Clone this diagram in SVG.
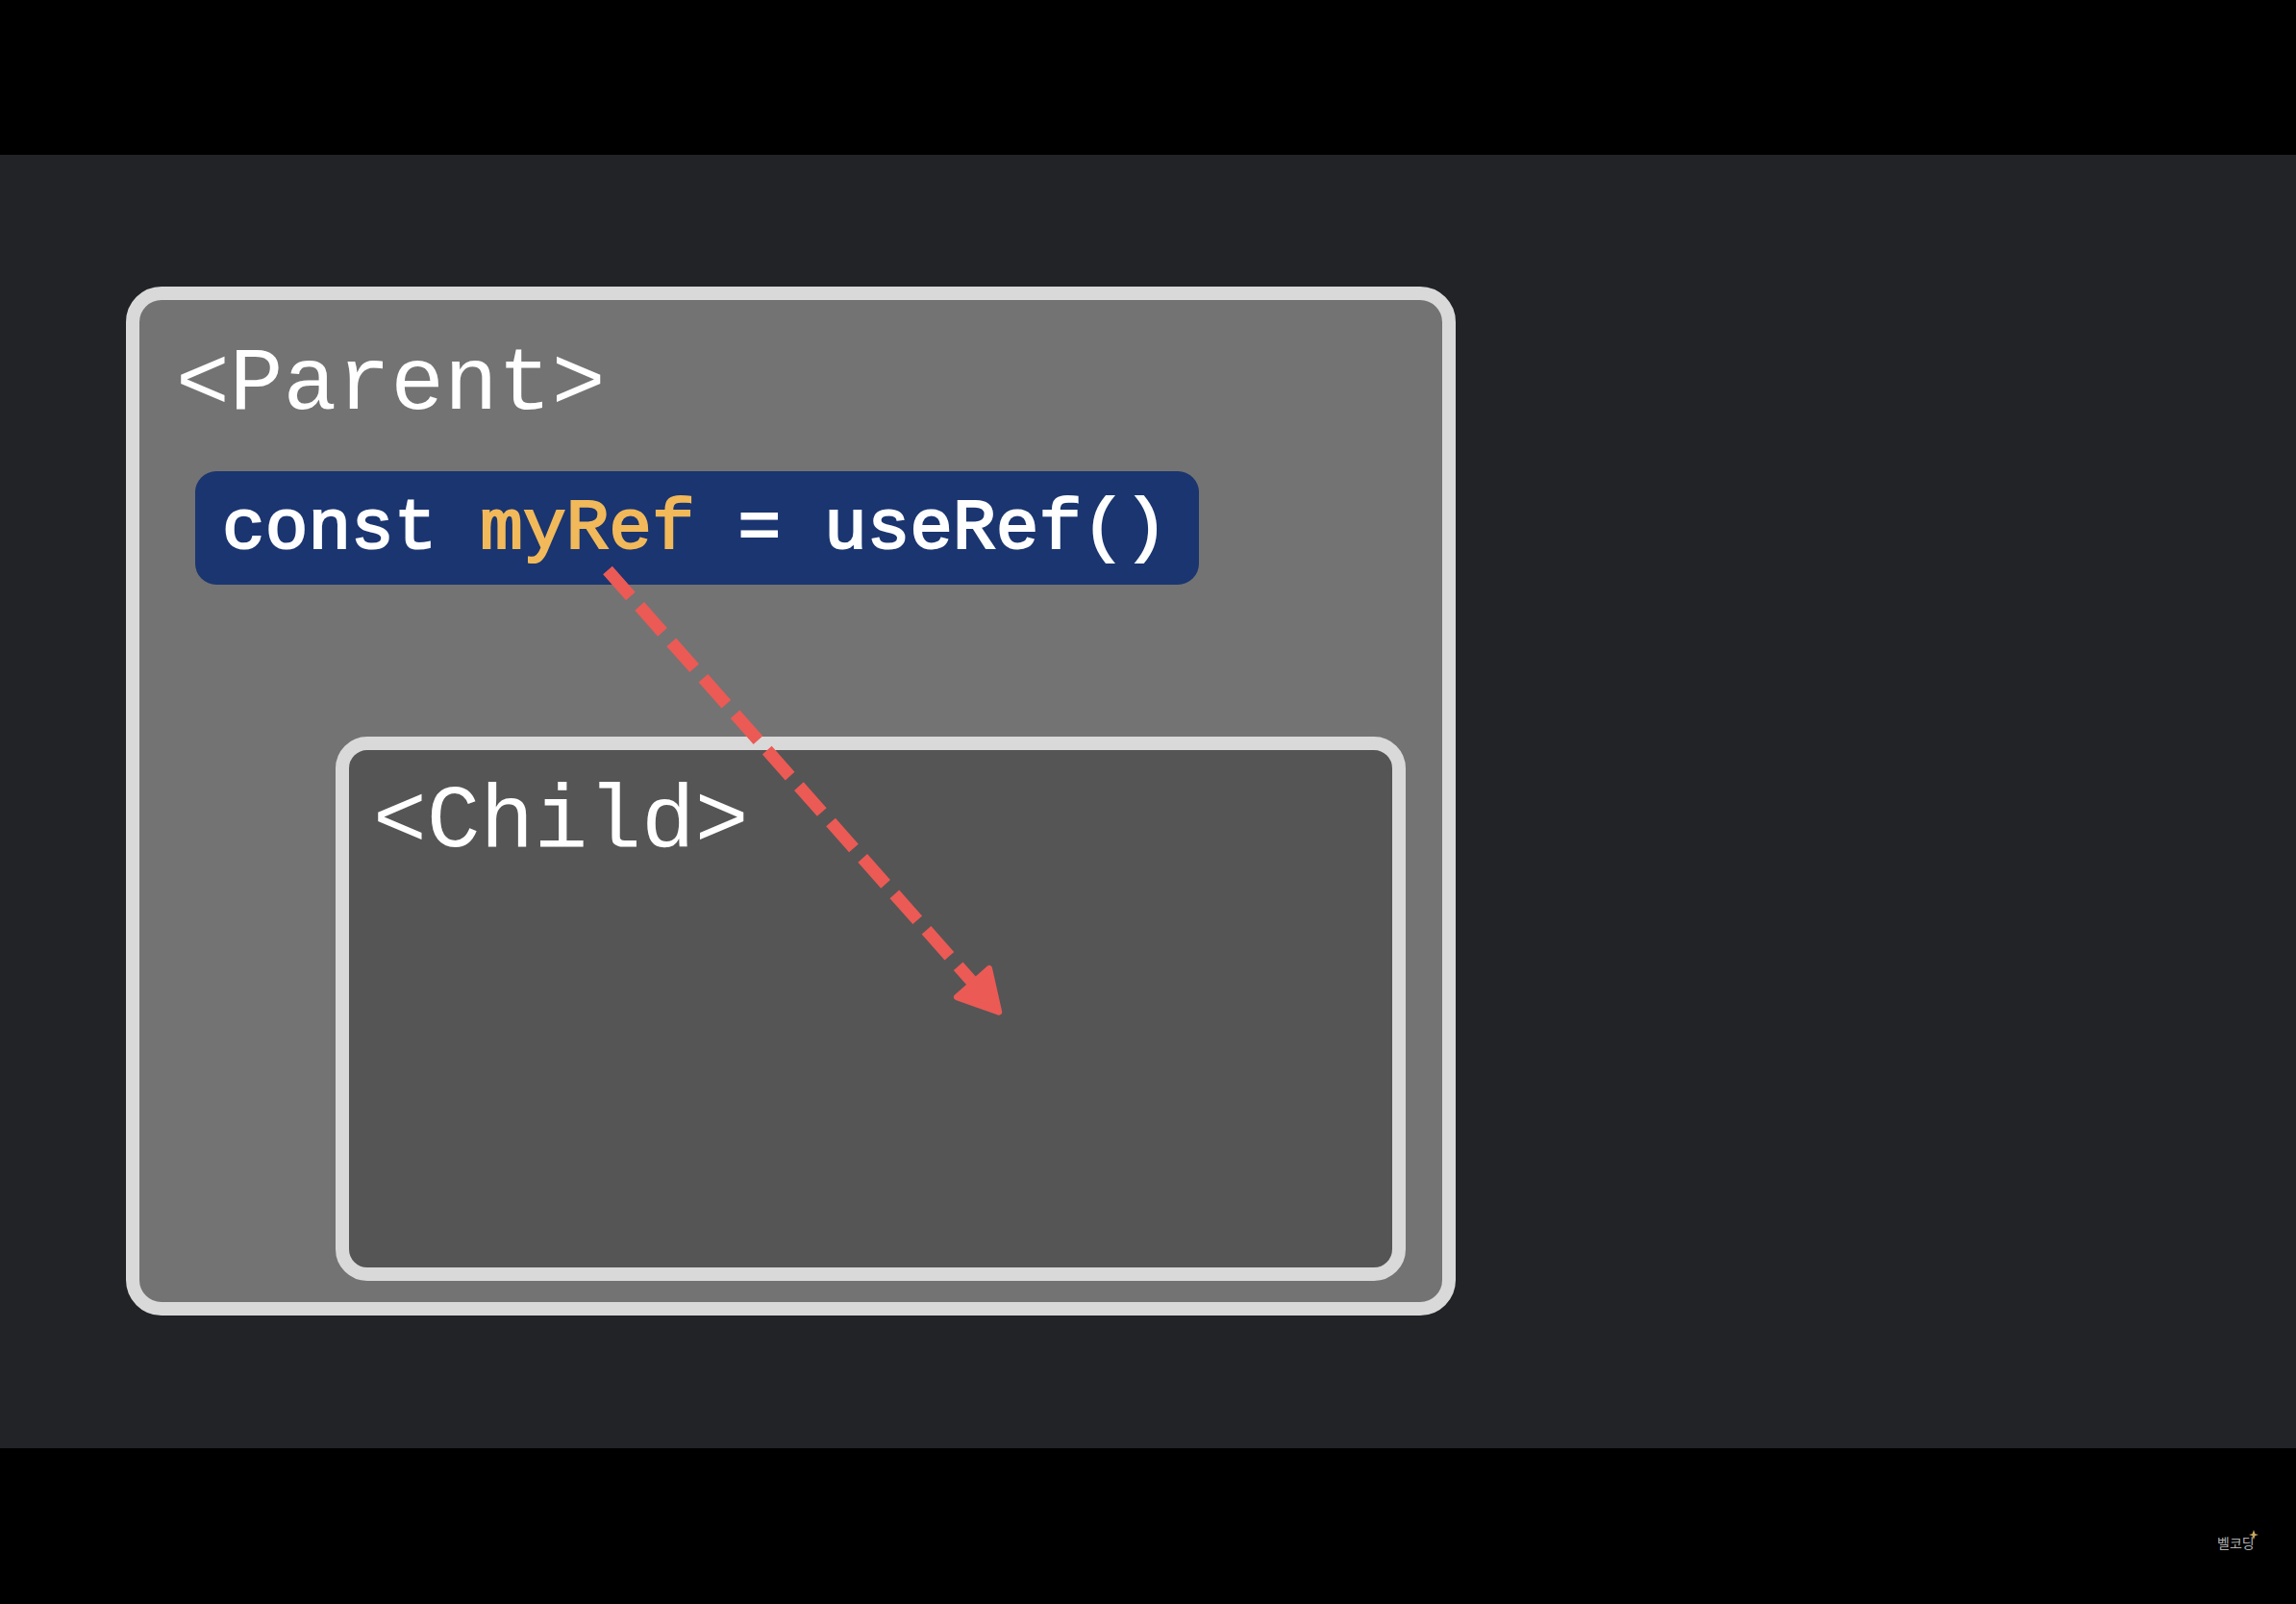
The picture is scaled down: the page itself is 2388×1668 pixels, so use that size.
<svg xmlns="http://www.w3.org/2000/svg" width="2388" height="1668" viewBox="0 0 2388 1668">
  <style>
    .box { stroke: #d9d9d9; stroke-width: 14; }
    .title { font-family: "Liberation Mono", "DejaVu Sans Mono", monospace; font-size: 93px; fill: #ffffff; }
    .code { font-family: "Liberation Mono", "DejaVu Sans Mono", monospace; font-size: 74.5px; fill: #ffffff; stroke: #ffffff; stroke-width: 2.2px; }
    .hl { fill: #f2b95a; stroke: #f2b95a; }
    .arrow { stroke: #eb5a55; stroke-width: 13; fill: none; stroke-dasharray: 36 14; }
  </style>
  <defs>
    <marker id="head" markerUnits="userSpaceOnUse" markerWidth="60" markerHeight="60" viewBox="-4 -28 52 56" refX="0" refY="0" orient="auto">
      <path d="M0,-21 L38,0 L0,21 Z" fill="#eb5a55" stroke="#eb5a55" stroke-width="6" stroke-linejoin="round"/>
    </marker>
  </defs>

  <rect x="0" y="0" width="2388" height="1668" fill="#000000"/>
  <rect x="0" y="161" width="2388" height="1345" fill="#212327"/>

  <g id="parent">
    <rect class="box" x="138" y="305" width="1369" height="1056" rx="30" fill="#737373"/>
    <text class="title" x="183" y="425">&lt;Parent&gt;</text>
  </g>

  <g id="child">
    <rect class="box" x="356" y="773" width="1099" height="552" rx="26" fill="#555555"/>
    <text class="title" x="388" y="880">&lt;Child&gt;</text>
  </g>

  <g id="code">
    <rect x="203" y="490" width="1044" height="118" rx="22" fill="#1a3570"/>
    <text class="code" x="231" y="570" xml:space="preserve">const <tspan class="hl">myRef</tspan> = useRef()</text>
  </g>

  <g id="connectors">
    <path class="arrow" d="M632,593 L1012,1022" marker-end="url(#head)"/>
  </g>

  <g id="watermark">
    <text x="2306" y="1610" font-family="Noto Sans CJK KR, sans-serif" font-size="14" fill="#b0b0b0">벨코딩</text>
    <polygon points="2344,1591 2345.5,1595 2349,1596 2345.5,1597 2344,1601 2342.5,1597 2339,1596 2342.5,1595" fill="#c8a860"/>
  </g>
</svg>
